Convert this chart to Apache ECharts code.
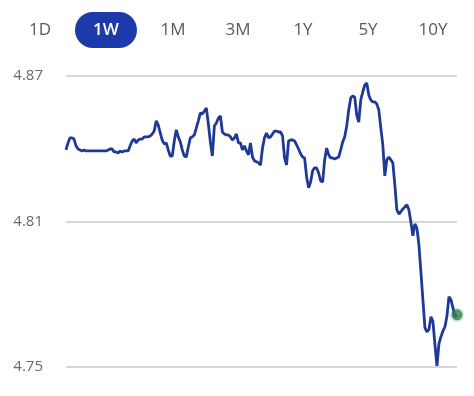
<!DOCTYPE html>
<html>
<head>
<meta charset="utf-8">
<script src="https://cdn.jsdelivr.net/npm/echarts@6/dist/echarts.min.js"></script>
<style>
  html, body { margin: 0; padding: 0; background: #ffffff; }
  #chart { width: 474px; height: 396px; }
</style>
</head>
<body>
<div id="chart"></div>
<script>
// Range selector buttons
const rangeButtons = ['1D', '1W', '1M', '3M', '1Y', '5Y', '10Y'];
const activeButton = '1W';

// Y-axis tick labels
const yTicks = [4.75, 4.81, 4.87];

// Price series (1W)
const prices = [
  4.8395, 4.8424, 4.8445, 4.8445, 4.8440, 4.8412, 4.8399, 4.8395, 4.8391, 4.8395,
  4.8391, 4.8391, 4.8391, 4.8391, 4.8391, 4.8391, 4.8391, 4.8391, 4.8391, 4.8391,
  4.8391, 4.8395, 4.8399, 4.8399, 4.8387, 4.8387, 4.8383, 4.8391, 4.8387, 4.8391,
  4.8391, 4.8391, 4.8412, 4.8432, 4.8440, 4.8424, 4.8436, 4.8440, 4.8440, 4.8449,
  4.8449, 4.8449, 4.8453, 4.8461, 4.8473, 4.8515, 4.8498, 4.8465, 4.8436, 4.8420,
  4.8424, 4.8395, 4.8370, 4.8370, 4.8432, 4.8478, 4.8449, 4.8428, 4.8395, 4.8370,
  4.8366, 4.8407, 4.8445, 4.8449, 4.8457, 4.8486, 4.8515, 4.8548, 4.8543, 4.8556,
  4.8568, 4.8502, 4.8428, 4.8370, 4.8494, 4.8506, 4.8527, 4.8535, 4.8469, 4.8461,
  4.8457, 4.8457, 4.8449, 4.8436, 4.8445, 4.8461, 4.8424, 4.8424, 4.8395, 4.8412,
  4.8391, 4.8375, 4.8424, 4.8366, 4.8350, 4.8346, 4.8342, 4.8333, 4.8403, 4.8445,
  4.8465, 4.8445, 4.8449, 4.8461, 4.8473, 4.8473, 4.8469, 4.8469, 4.8453, 4.8362,
  4.8333, 4.8432, 4.8436, 4.8436, 4.8432, 4.8416, 4.8399, 4.8379, 4.8366, 4.8362,
  4.8284, 4.8239, 4.8263, 4.8309, 4.8321, 4.8321, 4.8300, 4.8267, 4.8263, 4.8354,
  4.8403, 4.8375, 4.8362, 4.8362, 4.8358, 4.8362, 4.8366, 4.8395, 4.8428, 4.8449,
  4.8494, 4.8560, 4.8609, 4.8618, 4.8613, 4.8539, 4.8510, 4.8601, 4.8634, 4.8663,
  4.8671, 4.8622, 4.8601, 4.8593, 4.8593, 4.8585, 4.8560, 4.8486, 4.8416, 4.8288,
  4.8354, 4.8366, 4.8354, 4.8342, 4.8251, 4.8148, 4.8131, 4.8140, 4.8152, 4.8160,
  4.8169, 4.8148, 4.8098, 4.8041, 4.8090, 4.8074, 4.8004, 4.7892, 4.7777, 4.7662,
  4.7645, 4.7654, 4.7707, 4.7687, 4.7592, 4.7505, 4.7596, 4.7625, 4.7649, 4.7666,
  4.7711, 4.7790, 4.7777, 4.7744, 4.7707, 4.7715
];

// Sample labels (hidden time axis)
const times = prices.map((_, i) => 'T' + (i + 1));

const buttonCenters = [40, 106, 173, 238, 303, 368, 433];

const graphics = [];
rangeButtons.forEach((label, i) => {
  const active = label === activeButton;
  if (active) {
    graphics.push({
      type: 'rect',
      shape: { x: buttonCenters[i] - 31, y: 12, width: 62, height: 36, r: 18 },
      style: { fill: '#1c3aa9' }
    });
  }
  graphics.push({
    type: 'text',
    x: buttonCenters[i],
    y: 30,
    style: {
      text: label,
      fill: active ? '#ffffff' : '#5a5a5a',
      font: (active ? '600 ' : '500 ') + '17px "Open Sans", Roboto, sans-serif',
      align: 'center',
      verticalAlign: 'middle'
    }
  });
});

const chart = echarts.init(document.getElementById('chart'), null, { renderer: 'canvas' });
const lastIdx = prices.length - 1;

chart.setOption({
  animation: false,
  backgroundColor: '#ffffff',
  grid: { left: 66, right: 17, top: 76, bottom: 29 },
  graphic: graphics,
  xAxis: {
    type: 'category',
    data: times,
    boundaryGap: false,
    show: false
  },
  yAxis: {
    type: 'value',
    min: 4.75,
    max: 4.87,
    axisLine: { show: false },
    axisTick: { show: false, customValues: yTicks },
    axisLabel: {
      customValues: yTicks,
      formatter: v => v.toFixed(2),
      color: '#6a6a6a',
      fontSize: 15,
      fontFamily: '"Open Sans", Roboto, sans-serif',
      margin: 23
    },
    splitLine: { show: true, lineStyle: { color: '#c9c9c9', width: 1.5 } }
  },
  series: [
    {
      type: 'line',
      data: prices,
      showSymbol: false,
      symbol: 'none',
      lineStyle: { color: '#1f3a96', width: 2.8 },
      z: 2
    },
    {
      type: 'scatter',
      data: [[lastIdx, prices[lastIdx]]],
      symbolSize: 11,
      itemStyle: {
        color: '#2f7d4c',
        borderColor: 'rgba(47,125,76,0.2)',
        borderWidth: 4
      },
      z: 3
    }
  ]
});
</script>
</body>
</html>
